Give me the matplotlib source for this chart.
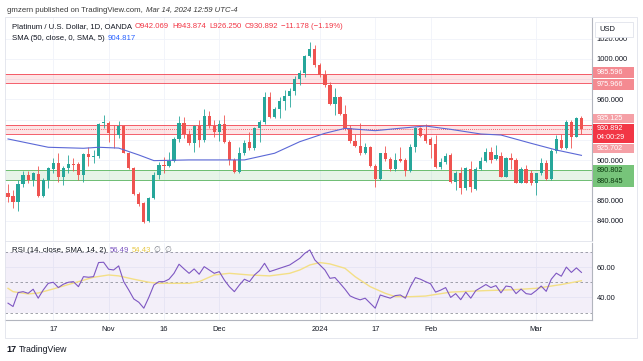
import numpy as np
import pandas as pd
import matplotlib
matplotlib.use('Agg')
import matplotlib.pyplot as plt
from matplotlib.patches import Rectangle

plt.rcParams['font.family'] = ['Liberation Sans', 'DejaVu Sans']

W, H = 643, 361

# daily bars, OANDA platinum, Oct 4 2023 -> Mar 14 2024
dates = pd.bdate_range('2023-10-04', '2024-03-14')
dates = dates[~dates.isin(pd.to_datetime(['2023-12-25', '2024-01-01']))]

opens = [867.4, 865.1, 859.1, 876.6, 885.8, 880.5, 886.5, 864.7, 880.5, 891.4,
         897.0, 883.8, 892.1, 896.3, 896.0, 885.5, 906.2, 903.2, 904.2, 936.5,
         937.2, 926.0, 925.0, 933.9, 907.5, 892.1, 866.7, 857.5, 839.5, 862.4,
         885.5, 895.3, 894.4, 899.6, 920.7, 937.2, 926.0, 916.7, 933.9, 920.0,
         943.7, 933.9, 928.3, 935.8, 918.4, 900.3, 888.8, 907.5, 918.4, 911.8,
         931.6, 938.1, 962.2, 943.1, 950.3, 958.6, 963.5, 968.8, 980.0, 986.5,
         1003.0, 1009.6, 994.1, 984.2, 974.4, 955.6, 962.2, 945.7, 931.6, 919.4,
         914.1, 907.5, 912.8, 894.4, 881.2, 906.9, 900.9, 891.1, 900.9, 900.3,
         889.8, 913.5, 931.6, 925.0, 920.7, 916.1, 893.1, 898.0, 905.2, 878.9,
         887.8, 872.3, 891.1, 871.3, 891.1, 899.6, 908.5, 901.0, 904.2, 883.8,
         901.9, 900.3, 877.9, 891.1, 887.8, 877.9, 887.1, 897.7, 881.2, 909.5,
         920.0, 911.8, 938.1, 923.3, 942.069]
highs = [876.6, 870.7, 880.5, 889.4, 889.4, 888.8, 894.4, 882.2, 893.7, 902.6,
         906.9, 894.4, 905.2, 902.0, 898.6, 906.9, 912.8, 910.2, 936.5, 944.7,
         939.1, 934.9, 939.1, 934.9, 908.5, 893.7, 869.0, 859.1, 864.1, 888.8,
         898.6, 902.9, 908.5, 923.3, 943.7, 942.4, 929.9, 934.9, 939.8, 950.3,
         949.0, 939.8, 939.8, 944.7, 920.0, 901.9, 913.5, 920.0, 928.3, 932.5,
         939.8, 967.8, 967.8, 953.0, 962.8, 969.4, 971.1, 983.3, 989.2, 1004.0,
         1016.5, 1013.9, 995.8, 989.2, 977.7, 971.1, 963.5, 954.6, 934.9, 926.0,
         936.5, 916.7, 914.1, 896.3, 907.5, 914.1, 903.6, 907.5, 913.5, 901.9,
         916.1, 932.5, 932.5, 935.8, 923.3, 925.0, 902.0, 907.5, 907.5, 889.8,
         893.7, 893.7, 899.6, 893.7, 903.6, 911.8, 912.8, 915.1, 908.5, 902.9,
         906.9, 901.9, 893.7, 895.3, 890.4, 887.8, 901.9, 900.3, 910.8, 925.0,
         926.0, 939.8, 939.8, 942.4, 943.874]
lows = [859.1, 853.2, 849.9, 874.0, 877.2, 874.6, 864.1, 864.1, 872.3, 887.1,
        878.9, 875.6, 887.1, 889.0, 880.5, 878.9, 894.4, 897.7, 902.0, 931.6,
        918.4, 911.8, 921.7, 906.9, 891.1, 865.7, 854.9, 837.7, 839.4, 861.4,
        881.2, 887.1, 893.1, 898.3, 918.4, 921.7, 915.1, 908.5, 913.5, 918.4,
        931.6, 923.3, 919.4, 916.7, 895.3, 887.1, 887.1, 905.2, 910.2, 910.2,
        918.4, 935.8, 941.4, 941.4, 941.4, 949.7, 953.0, 964.5, 974.4, 982.0,
        1001.7, 992.5, 982.6, 972.7, 954.6, 944.7, 944.7, 929.9, 917.4, 913.5,
        905.2, 906.2, 893.7, 874.0, 880.5, 899.6, 889.8, 889.8, 898.6, 884.5,
        888.8, 908.5, 922.7, 917.4, 902.0, 892.1, 891.1, 896.3, 877.9, 870.7,
        866.7, 870.7, 869.0, 870.7, 890.4, 898.6, 897.7, 900.3, 883.2, 883.2,
        891.1, 877.2, 877.2, 877.2, 875.6, 865.7, 885.5, 880.5, 880.5, 907.5,
        910.8, 910.8, 911.8, 922.7, 926.250]
closes = [864.1, 859.1, 876.6, 885.8, 880.5, 887.1, 864.7, 880.5, 892.1, 897.0,
          883.8, 892.1, 896.3, 895.0, 885.5, 906.2, 903.6, 904.2, 935.8, 937.5,
          926.6, 925.6, 933.9, 907.5, 892.1, 866.7, 856.8, 839.4, 862.4, 885.5,
          895.3, 894.0, 899.6, 920.7, 937.2, 926.0, 916.7, 933.9, 920.0, 943.7,
          933.9, 928.3, 935.8, 918.4, 900.3, 888.8, 907.5, 917.0, 911.8, 931.6,
          938.1, 962.2, 943.1, 950.3, 958.9, 963.5, 968.8, 980.0, 986.5, 1003.0,
          1009.6, 994.1, 984.2, 974.4, 955.6, 962.2, 945.7, 931.6, 919.4, 914.1,
          906.9, 912.8, 894.4, 881.2, 906.9, 900.9, 891.1, 900.3, 899.6, 889.8,
          913.5, 931.6, 924.0, 919.4, 915.1, 893.1, 898.0, 904.2, 878.9, 887.8,
          872.3, 892.1, 874.0, 891.1, 899.6, 908.5, 900.3, 905.2, 883.8, 901.9,
          900.3, 877.9, 891.1, 877.9, 877.9, 887.1, 897.7, 881.2, 909.5, 920.7,
          911.8, 938.1, 923.3, 941.4, 930.892]

# SMA 50 read at some bars
sma_idx = [0, 8, 15, 18, 22, 26, 29, 36, 42, 47, 53, 58, 63, 67, 73, 78, 83, 88, 94, 98, 104, 109, 114]
sma_val = [921.0, 912.8, 911.8, 912.8, 912.0, 905.2, 899.6, 900.3, 900.3, 900.3, 906.9, 918.3,
           926.6, 931.5, 929.2, 931.6, 933.8, 930.5, 925.9, 924.9, 916.7, 910.1, 904.817]

rsi = [36.2, 34.0, 43.2, 43.8, 42.7, 45.4, 39.5, 44.9, 49.3, 50.0,
       46.5, 48.7, 50.0, 50.4, 47.1, 53.7, 53.3, 53.7, 63.0, 63.2,
       58.6, 58.1, 60.8, 50.4, 44.9, 39.0, 36.8, 32.9, 40.1, 48.2,
       50.4, 50.4, 52.0, 55.9, 61.9, 58.8, 55.9, 58.8, 55.3, 60.3,
       58.1, 55.9, 57.0, 51.5, 47.1, 43.8, 48.2, 52.0, 50.4, 54.8,
       57.7, 62.5, 57.0, 58.1, 59.2, 60.3, 61.4, 63.6, 65.8, 69.1,
       71.3, 64.7, 61.4, 58.1, 52.6, 53.1, 49.3, 45.4, 41.0, 39.5,
       38.4, 39.5, 36.2, 32.9, 41.6, 40.5, 39.5, 41.2, 41.6, 39.5,
       47.1, 53.1, 52.0, 50.4, 49.0, 43.5, 44.8, 46.5, 40.0, 42.5,
       38.5, 43.5, 39.5, 44.5, 46.5, 48.5, 46.5, 47.8, 43.0, 47.5,
       47.0, 42.5, 45.5, 42.5, 42.0, 44.5, 47.5, 44.0, 52.0, 56.0,
       54.0, 60.0, 56.5, 59.5, 56.49]

rsi_sma_idx = [0, 1, 4, 6, 9, 12, 14, 17, 20, 22, 25, 28, 30, 33, 36, 38, 41, 44, 48, 52, 56, 58,
               60, 62, 64, 67, 69, 72, 75, 77, 80, 83, 88, 95, 100, 105, 110, 114]
rsi_sma_val = [46.0, 43.8, 42.3, 42.9, 45.6, 48.5, 50.4, 53.3, 54.8, 54.2, 52.0, 50.0, 49.3, 49.3,
               49.3, 50.4, 54.8, 55.9, 54.8, 54.2, 55.9, 58.1, 61.4, 63.0, 62.1, 59.2, 53.7, 47.1,
               42.7, 40.5, 40.5, 40.9, 43.5, 44.5, 45.0, 46.0, 48.5, 51.0]

res_zones = [(975.966, 985.596), (925.702, 935.125)]
sup_zones = [(880.845, 890.802)]
last_price = 930.892

grid_levels = [840, 860, 880, 900, 920, 940, 960, 980, 1000, 1020]
shown_levels = [840, 860, 900, 960, 1000, 1020]  # the others sit under the price tags

tick_days = ['2023-10-17', '2023-11-01', '2023-11-16', '2023-12-01',
             '2024-01-02', '2024-01-17', '2024-02-01', '2024-03-01']
tick_names = ['17', 'Nov', '16', 'Dec', '2024', '17', 'Feb', 'Mar']

UP, DN = '#26a69a', '#ef5350'
RED, GREEN = '#f23645', '#4caf50'
TXT = '#131722'
FS = 5.4

x = np.arange(len(dates))
o, h, l, c = map(np.array, (opens, highs, lows, closes))
tick_pos = [int(np.where(dates == pd.Timestamp(d))[0][0]) for d in tick_days]

fig = plt.figure(figsize=(W / 100, H / 100), dpi=100)
fig.patch.set_facecolor('white')


def fx(px):
    return px / W


def fy(py):
    return 1 - py / H


ax = fig.add_axes([fx(5), fy(241), fx(587), (241 - 18) / H])
rax = fig.add_axes([fx(5), fy(320), fx(587), (320 - 243) / H])

for a in (ax, rax):
    a.set_xlim(-0.6, 116.1)
    for s in ('top', 'left'):
        a.spines[s].set_visible(False)
    a.spines['right'].set_color('#b2b5be')
    a.spines['right'].set_linewidth(0.8)
    a.yaxis.tick_right()
    a.tick_params(length=0, labelsize=FS, colors=TXT, pad=3.5)
    a.set_xticks(tick_pos)
    a.grid(True, color='#f0f3fa', lw=0.6)
    a.set_axisbelow(True)

ax.spines['bottom'].set_color('#e0e3eb')
ax.spines['bottom'].set_linewidth(0.6)
ax.set_xticklabels([])
rax.spines['bottom'].set_color('#b2b5be')
rax.spines['bottom'].set_linewidth(0.8)
rax.set_xticklabels(tick_names)
rax.tick_params(axis='x', pad=4)

# price panel
ax.set_ylim(820.2, 1040.5)
ax.set_yticks(grid_levels)
ax.set_yticklabels(['%.3f' % v if v in shown_levels else '' for v in grid_levels])

for lo, hi in res_zones:
    ax.axhspan(lo, hi, color=RED, alpha=0.13, lw=0, zorder=1)
    ax.axhline(lo, color=RED, lw=0.7, alpha=0.8, zorder=1.2)
    ax.axhline(hi, color=RED, lw=0.7, alpha=0.8, zorder=1.2)
for lo, hi in sup_zones:
    ax.axhspan(lo, hi, color=GREEN, alpha=0.13, lw=0, zorder=1)
    ax.axhline(lo, color=GREEN, lw=0.7, alpha=0.8, zorder=1.2)
    ax.axhline(hi, color=GREEN, lw=0.7, alpha=0.8, zorder=1.2)
ax.axhline(last_price, color=RED, lw=0.6, ls=(0, (1, 1.5)), zorder=1.3)

cols = np.where(c >= o, UP, DN)
ax.vlines(x, l, h, colors=cols, lw=0.6, zorder=2.6)
ax.bar(x, np.maximum(np.abs(c - o), 0.7), bottom=np.minimum(o, c), width=0.64,
       color=cols, lw=0, zorder=2.7)
ax.plot(sma_idx, sma_val, color='#5b68d6', lw=0.8, zorder=2.8)

# RSI panel
rax.set_ylim(25.1, 75.9)
rax.set_yticks([40, 60])
rax.set_yticklabels(['40.00', '60.00'])
rax.axhspan(30, 70, color='#7e57c2', alpha=0.09, lw=0)
for lv in (30, 50, 70):
    rax.axhline(lv, color='#787b86', lw=0.6, ls=(0, (3, 3)), alpha=0.8)
rax.plot(rsi_sma_idx, rsi_sma_val, color='#f3df86', lw=1.0)
rax.plot(x, rsi, color='#7e57c2', lw=0.8)

fig.canvas.draw()
rend = fig.canvas.get_renderer()


def run(px, py, parts, size=FS):
    for s, col, style in parts:
        t = fig.text(fx(px), fy(py), s, color=col, fontsize=size, style=style, va='center', ha='left')
        bb = t.get_window_extent(rend)
        px = bb.x1 + 3


def tag(price, label, face, tcol='white', dy=0, hh=10, sub=None, size=FS):
    yd = ax.transData.transform((0, price))[1] + dy
    box_h = hh * 2 if sub else hh
    top = yd + hh / 2
    fig.patches.append(Rectangle((fx(593), (top - box_h) / H), fx(41), box_h / H,
                                 transform=fig.transFigure, facecolor=face, edgecolor='none', zorder=5))
    fig.text(fx(597), yd / H, label, color=tcol, fontsize=size, va='center', zorder=6)
    if sub:
        fig.text(fx(597), (yd - hh) / H, sub, color=tcol, fontsize=size, va='center', zorder=6)


tag(985.596, '985.596', '#f48a91', dy=1.2, hh=11.5, size=5.2)
tag(975.966, '975.966', '#f48a91', dy=-1.2, hh=11.5, size=5.2)
tag(935.125, '935.125', '#f5a0a6', dy=6.2, hh=9.5, size=5.2)
tag(last_price, '930.892', RED, dy=0.5, hh=9.5, sub='04:00:29', size=5.2)
tag(925.702, '925.702', '#f5a0a6', dy=-14.5, hh=9.5, size=5.2)
tag(890.802, '890.802', '#77c47a', tcol='#0d3b10', dy=-0.5, hh=11, size=5.2)
tag(880.845, '880.845', '#77c47a', tcol='#0d3b10', dy=-1.8, hh=11, size=5.2)

# USD box
fig.patches.append(Rectangle((fx(595), fy(37)), fx(38), 15 / H, transform=fig.transFigure,
                             facecolor='white', edgecolor='#e0e3eb', lw=0.6, zorder=5))
fig.text(fx(599), fy(29.5), 'USD', fontsize=FS, color=TXT, va='center', zorder=6)

# frame
fig.patches.append(Rectangle((fx(5), fy(338)), fx(632), (338 - 17) / H, transform=fig.transFigure,
                             facecolor='none', edgecolor='#e0e3eb', lw=0.6, zorder=0))

run(7, 10, [('gmzern published on TradingView.com,', '#3a3a3a', 'normal'),
            ('Mar 14, 2024 12:59 UTC-4', '#3a3a3a', 'italic')], size=5.6)
run(12, 27, [('Platinum / U.S. Dollar, 1D, OANDA', TXT, 'normal'),
             ('O942.069', RED, 'normal'), ('H943.874', RED, 'normal'),
             ('L926.250', RED, 'normal'), ('C930.892', RED, 'normal'),
             ('\u221211.178 (\u22121.19%)', RED, 'normal')], size=5.6)
run(12, 39, [('SMA (50, close, 0, SMA, 5)', TXT, 'normal'), ('904.817', '#2962ff', 'normal')], size=5.6)
run(12, 251, [('RSI (14, close, SMA, 14, 2)', TXT, 'normal'), ('56.49', '#7e57c2', 'normal'),
              ('54.43', '#e8c94a', 'normal'), ('\u2205  \u2205', '#787b86', 'normal')], size=5.6)

fig.text(fx(6), fy(349), '17', fontsize=6.5, fontweight='bold', color=TXT, va='center')
fig.text(fx(19), fy(349), 'TradingView', fontsize=6.3, color=TXT, va='center')

fig.savefig('out.png', dpi=100, facecolor='white')
